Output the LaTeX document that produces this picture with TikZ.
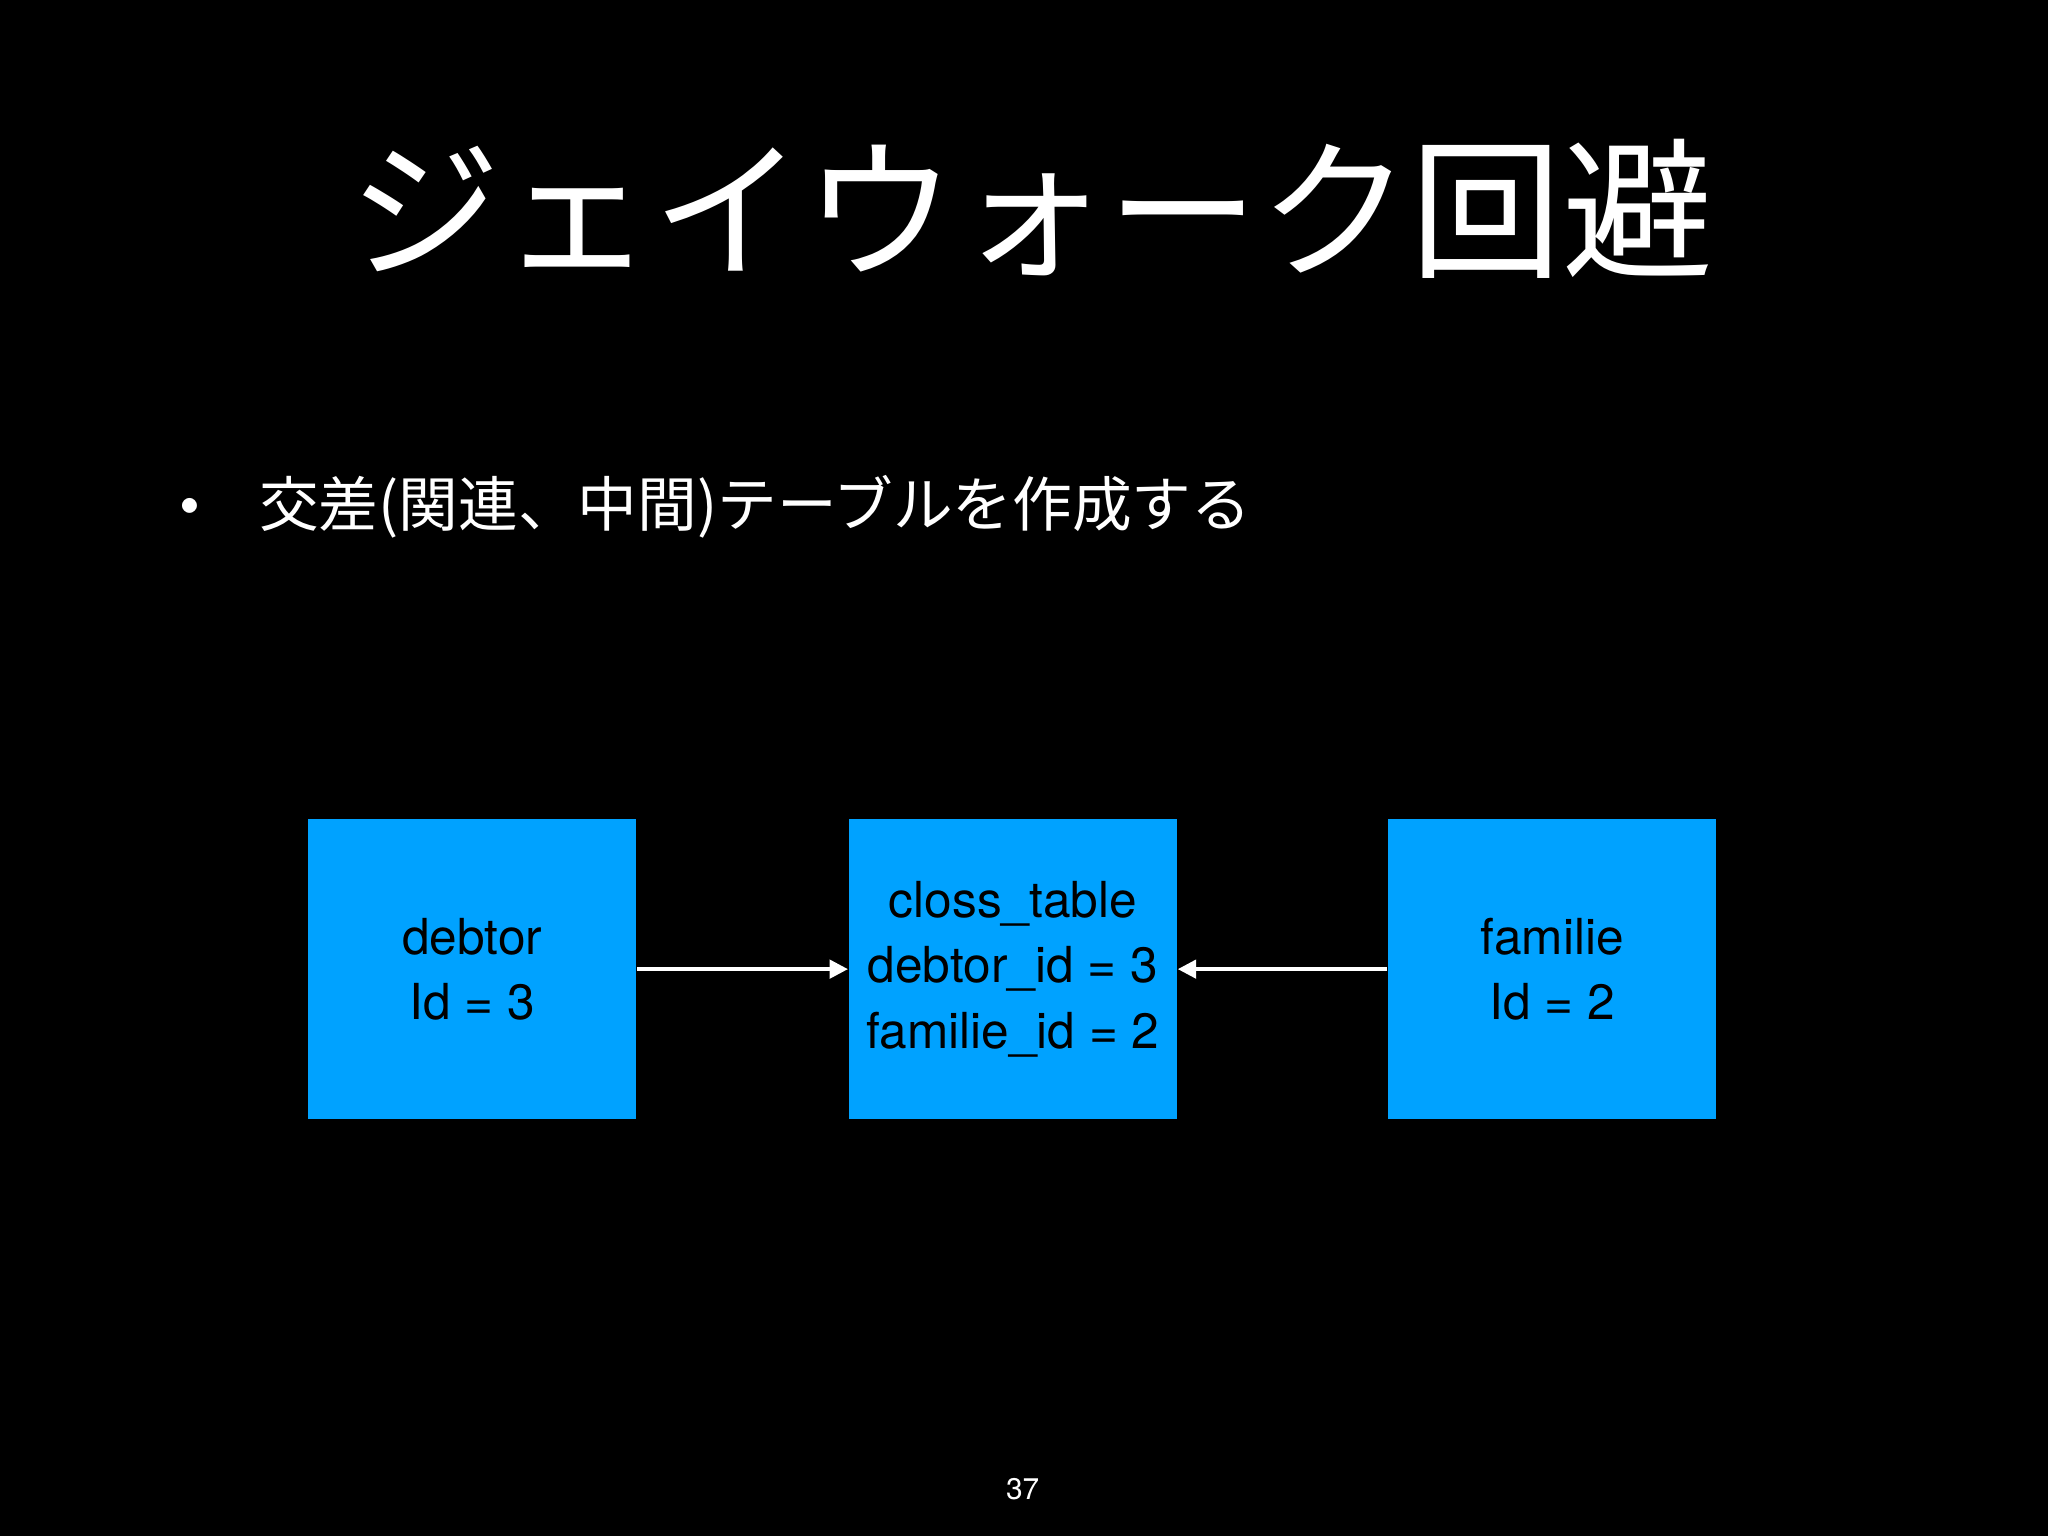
\documentclass[tikz,border=0pt]{standalone}
\usepackage{fontspec}
\setmainfont{TeX Gyre Heros}
\newfontfamily\cjk{Noto Sans CJK JP}
\usetikzlibrary{arrows.meta}
\definecolor{boxblue}{RGB}{0,162,255}
\begin{document}
\begin{tikzpicture}[x=0.01cm,y=-0.01cm,
  tbl/.style={fill=boxblue,minimum width=2.51cm,minimum height=2.30cm,inner sep=0pt,text=black,font=\fontsize{10.8}{14.2}\selectfont,align=center},
  conn/.style={white,line width=0.8pt,-{Triangle[length=4pt,width=4pt]}}]
\fill[black] (0,0) rectangle (1568,1176);
\useasboundingbox (0,0) rectangle (1568,1176);
\node[text=white,font=\cjk\fontsize{33}{40}\selectfont] (title) at (790,160) {ジェイウォーク回避};
\node[text=white,anchor=west,font=\fontsize{13}{16}\selectfont] (bul) at (125,388) {•\hspace{0.45cm}{\cjk 交差(関連、中間)テーブルを作成する}};
\node[tbl] (d) at (361.5,742) {debtor\\Id = 3};
\node[tbl] (c) at (775.5,742) {closs\_table\\debtor\_id = 3\\familie\_id = 2};
\node[tbl] (f) at (1188.5,742) {familie\\Id = 2};
\draw[conn] (d.east) -- (c.west);
\draw[conn] (f.west) -- (c.east);
\node[text=white,font=\fontsize{6.5}{8}\selectfont] (pg) at (783,1140) {37};
\end{tikzpicture}
\end{document}
